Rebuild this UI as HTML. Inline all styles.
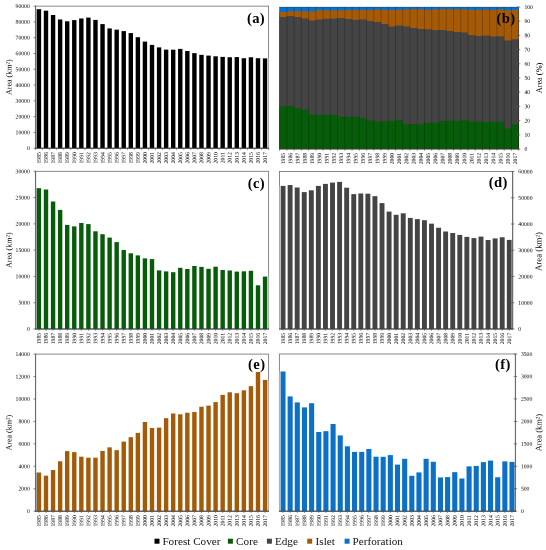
<!DOCTYPE html>
<html><head><meta charset="utf-8"><title>Forest fragmentation classes 1985-2017</title>
<style>
html,body{margin:0;padding:0;background:#fff;}
svg{display:block;font-family:"Liberation Serif","DejaVu Serif",serif;}
</style></head><body>
<svg width="546" height="550" viewBox="0 0 546 550">
<rect x="0" y="0" width="546" height="550" fill="#ffffff"/>
<rect x="35.4" y="6.15" width="233.2" height="142.05" fill="#fff" stroke="#7c7c7c" stroke-width="0.9"/>
<rect x="36.73" y="9.2" width="4.4" height="139" fill="#000000"/>
<rect x="43.8" y="10.7" width="4.4" height="137.5" fill="#000000"/>
<rect x="50.87" y="15" width="4.4" height="133.2" fill="#000000"/>
<rect x="57.93" y="19.45" width="4.4" height="128.75" fill="#000000"/>
<rect x="65" y="21.3" width="4.4" height="126.9" fill="#000000"/>
<rect x="72.07" y="20.1" width="4.4" height="128.1" fill="#000000"/>
<rect x="79.13" y="18.5" width="4.4" height="129.7" fill="#000000"/>
<rect x="86.2" y="17.6" width="4.4" height="130.6" fill="#000000"/>
<rect x="93.27" y="19.9" width="4.4" height="128.3" fill="#000000"/>
<rect x="100.33" y="24.1" width="4.4" height="124.1" fill="#000000"/>
<rect x="107.4" y="28.4" width="4.4" height="119.8" fill="#000000"/>
<rect x="114.47" y="29.65" width="4.4" height="118.55" fill="#000000"/>
<rect x="121.53" y="31.1" width="4.4" height="117.1" fill="#000000"/>
<rect x="128.6" y="33.1" width="4.4" height="115.1" fill="#000000"/>
<rect x="135.67" y="37.2" width="4.4" height="111" fill="#000000"/>
<rect x="142.73" y="41.6" width="4.4" height="106.6" fill="#000000"/>
<rect x="149.8" y="44.9" width="4.4" height="103.3" fill="#000000"/>
<rect x="156.87" y="47.4" width="4.4" height="100.8" fill="#000000"/>
<rect x="163.93" y="49.6" width="4.4" height="98.6" fill="#000000"/>
<rect x="171" y="49.7" width="4.4" height="98.5" fill="#000000"/>
<rect x="178.07" y="48.9" width="4.4" height="99.3" fill="#000000"/>
<rect x="185.13" y="51" width="4.4" height="97.2" fill="#000000"/>
<rect x="192.2" y="53.15" width="4.4" height="95.05" fill="#000000"/>
<rect x="199.27" y="54.85" width="4.4" height="93.35" fill="#000000"/>
<rect x="206.33" y="55.6" width="4.4" height="92.6" fill="#000000"/>
<rect x="213.4" y="56.3" width="4.4" height="91.9" fill="#000000"/>
<rect x="220.47" y="56.9" width="4.4" height="91.3" fill="#000000"/>
<rect x="227.53" y="57.25" width="4.4" height="90.95" fill="#000000"/>
<rect x="234.6" y="57.1" width="4.4" height="91.1" fill="#000000"/>
<rect x="241.67" y="58.2" width="4.4" height="90" fill="#000000"/>
<rect x="248.73" y="57.25" width="4.4" height="90.95" fill="#000000"/>
<rect x="255.8" y="58.2" width="4.4" height="90" fill="#000000"/>
<rect x="262.87" y="58.4" width="4.4" height="89.8" fill="#000000"/>
<rect x="35.4" y="9.2" width="1.43" height="139" fill="#a4a4a4"/>
<rect x="267.17" y="58.4" width="1.43" height="89.8" fill="#c8c8c8"/>
<line x1="35.65" y1="6.15" x2="35.65" y2="148.2" stroke="#606060" stroke-width="0.85"/>
<line x1="35" y1="148.2" x2="269" y2="148.2" stroke="#3a3a3a" stroke-width="0.9"/>
<line x1="33.5" y1="148.2" x2="36" y2="148.2" stroke="#555555" stroke-width="0.7"/>
<text x="29.8" y="150.08" font-size="5.7" text-anchor="end" transform="rotate(0.1 29.8 150.08)" fill="#000000">0</text>
<line x1="33.5" y1="132.42" x2="36" y2="132.42" stroke="#555555" stroke-width="0.7"/>
<text x="29.8" y="134.3" font-size="5.7" text-anchor="end" transform="rotate(0.1 29.8 134.3)" fill="#000000">10000</text>
<line x1="33.5" y1="116.63" x2="36" y2="116.63" stroke="#555555" stroke-width="0.7"/>
<text x="29.8" y="118.51" font-size="5.7" text-anchor="end" transform="rotate(0.1 29.8 118.51)" fill="#000000">20000</text>
<line x1="33.5" y1="100.85" x2="36" y2="100.85" stroke="#555555" stroke-width="0.7"/>
<text x="29.8" y="102.73" font-size="5.7" text-anchor="end" transform="rotate(0.1 29.8 102.73)" fill="#000000">30000</text>
<line x1="33.5" y1="85.07" x2="36" y2="85.07" stroke="#555555" stroke-width="0.7"/>
<text x="29.8" y="86.95" font-size="5.7" text-anchor="end" transform="rotate(0.1 29.8 86.95)" fill="#000000">40000</text>
<line x1="33.5" y1="69.28" x2="36" y2="69.28" stroke="#555555" stroke-width="0.7"/>
<text x="29.8" y="71.16" font-size="5.7" text-anchor="end" transform="rotate(0.1 29.8 71.16)" fill="#000000">50000</text>
<line x1="33.5" y1="53.5" x2="36" y2="53.5" stroke="#555555" stroke-width="0.7"/>
<text x="29.8" y="55.38" font-size="5.7" text-anchor="end" transform="rotate(0.1 29.8 55.38)" fill="#000000">60000</text>
<line x1="33.5" y1="37.72" x2="36" y2="37.72" stroke="#555555" stroke-width="0.7"/>
<text x="29.8" y="39.6" font-size="5.7" text-anchor="end" transform="rotate(0.1 29.8 39.6)" fill="#000000">70000</text>
<line x1="33.5" y1="21.93" x2="36" y2="21.93" stroke="#555555" stroke-width="0.7"/>
<text x="29.8" y="23.81" font-size="5.7" text-anchor="end" transform="rotate(0.1 29.8 23.81)" fill="#000000">80000</text>
<line x1="33.5" y1="6.15" x2="36" y2="6.15" stroke="#555555" stroke-width="0.7"/>
<text x="29.8" y="8.03" font-size="5.7" text-anchor="end" transform="rotate(0.1 29.8 8.03)" fill="#000000">90000</text>
<line x1="35.4" y1="148.2" x2="35.4" y2="149.9" stroke="#555555" stroke-width="0.7"/>
<line x1="42.47" y1="148.2" x2="42.47" y2="149.9" stroke="#555555" stroke-width="0.7"/>
<line x1="49.53" y1="148.2" x2="49.53" y2="149.9" stroke="#555555" stroke-width="0.7"/>
<line x1="56.6" y1="148.2" x2="56.6" y2="149.9" stroke="#555555" stroke-width="0.7"/>
<line x1="63.67" y1="148.2" x2="63.67" y2="149.9" stroke="#555555" stroke-width="0.7"/>
<line x1="70.73" y1="148.2" x2="70.73" y2="149.9" stroke="#555555" stroke-width="0.7"/>
<line x1="77.8" y1="148.2" x2="77.8" y2="149.9" stroke="#555555" stroke-width="0.7"/>
<line x1="84.87" y1="148.2" x2="84.87" y2="149.9" stroke="#555555" stroke-width="0.7"/>
<line x1="91.93" y1="148.2" x2="91.93" y2="149.9" stroke="#555555" stroke-width="0.7"/>
<line x1="99" y1="148.2" x2="99" y2="149.9" stroke="#555555" stroke-width="0.7"/>
<line x1="106.07" y1="148.2" x2="106.07" y2="149.9" stroke="#555555" stroke-width="0.7"/>
<line x1="113.13" y1="148.2" x2="113.13" y2="149.9" stroke="#555555" stroke-width="0.7"/>
<line x1="120.2" y1="148.2" x2="120.2" y2="149.9" stroke="#555555" stroke-width="0.7"/>
<line x1="127.27" y1="148.2" x2="127.27" y2="149.9" stroke="#555555" stroke-width="0.7"/>
<line x1="134.33" y1="148.2" x2="134.33" y2="149.9" stroke="#555555" stroke-width="0.7"/>
<line x1="141.4" y1="148.2" x2="141.4" y2="149.9" stroke="#555555" stroke-width="0.7"/>
<line x1="148.47" y1="148.2" x2="148.47" y2="149.9" stroke="#555555" stroke-width="0.7"/>
<line x1="155.53" y1="148.2" x2="155.53" y2="149.9" stroke="#555555" stroke-width="0.7"/>
<line x1="162.6" y1="148.2" x2="162.6" y2="149.9" stroke="#555555" stroke-width="0.7"/>
<line x1="169.67" y1="148.2" x2="169.67" y2="149.9" stroke="#555555" stroke-width="0.7"/>
<line x1="176.73" y1="148.2" x2="176.73" y2="149.9" stroke="#555555" stroke-width="0.7"/>
<line x1="183.8" y1="148.2" x2="183.8" y2="149.9" stroke="#555555" stroke-width="0.7"/>
<line x1="190.87" y1="148.2" x2="190.87" y2="149.9" stroke="#555555" stroke-width="0.7"/>
<line x1="197.93" y1="148.2" x2="197.93" y2="149.9" stroke="#555555" stroke-width="0.7"/>
<line x1="205" y1="148.2" x2="205" y2="149.9" stroke="#555555" stroke-width="0.7"/>
<line x1="212.07" y1="148.2" x2="212.07" y2="149.9" stroke="#555555" stroke-width="0.7"/>
<line x1="219.13" y1="148.2" x2="219.13" y2="149.9" stroke="#555555" stroke-width="0.7"/>
<line x1="226.2" y1="148.2" x2="226.2" y2="149.9" stroke="#555555" stroke-width="0.7"/>
<line x1="233.27" y1="148.2" x2="233.27" y2="149.9" stroke="#555555" stroke-width="0.7"/>
<line x1="240.33" y1="148.2" x2="240.33" y2="149.9" stroke="#555555" stroke-width="0.7"/>
<line x1="247.4" y1="148.2" x2="247.4" y2="149.9" stroke="#555555" stroke-width="0.7"/>
<line x1="254.47" y1="148.2" x2="254.47" y2="149.9" stroke="#555555" stroke-width="0.7"/>
<line x1="261.53" y1="148.2" x2="261.53" y2="149.9" stroke="#555555" stroke-width="0.7"/>
<line x1="268.6" y1="148.2" x2="268.6" y2="149.9" stroke="#555555" stroke-width="0.7"/>
<text x="40.81" y="152.1" font-size="5.7" text-anchor="end" transform="rotate(-89.9 40.81 152.1)" fill="#000000">1985</text>
<text x="47.88" y="152.1" font-size="5.7" text-anchor="end" transform="rotate(-89.9 47.88 152.1)" fill="#000000">1986</text>
<text x="54.95" y="152.1" font-size="5.7" text-anchor="end" transform="rotate(-89.9 54.95 152.1)" fill="#000000">1987</text>
<text x="62.01" y="152.1" font-size="5.7" text-anchor="end" transform="rotate(-89.9 62.01 152.1)" fill="#000000">1988</text>
<text x="69.08" y="152.1" font-size="5.7" text-anchor="end" transform="rotate(-89.9 69.08 152.1)" fill="#000000">1989</text>
<text x="76.15" y="152.1" font-size="5.7" text-anchor="end" transform="rotate(-89.9 76.15 152.1)" fill="#000000">1990</text>
<text x="83.21" y="152.1" font-size="5.7" text-anchor="end" transform="rotate(-89.9 83.21 152.1)" fill="#000000">1991</text>
<text x="90.28" y="152.1" font-size="5.7" text-anchor="end" transform="rotate(-89.9 90.28 152.1)" fill="#000000">1992</text>
<text x="97.35" y="152.1" font-size="5.7" text-anchor="end" transform="rotate(-89.9 97.35 152.1)" fill="#000000">1993</text>
<text x="104.41" y="152.1" font-size="5.7" text-anchor="end" transform="rotate(-89.9 104.41 152.1)" fill="#000000">1994</text>
<text x="111.48" y="152.1" font-size="5.7" text-anchor="end" transform="rotate(-89.9 111.48 152.1)" fill="#000000">1995</text>
<text x="118.55" y="152.1" font-size="5.7" text-anchor="end" transform="rotate(-89.9 118.55 152.1)" fill="#000000">1996</text>
<text x="125.61" y="152.1" font-size="5.7" text-anchor="end" transform="rotate(-89.9 125.61 152.1)" fill="#000000">1997</text>
<text x="132.68" y="152.1" font-size="5.7" text-anchor="end" transform="rotate(-89.9 132.68 152.1)" fill="#000000">1998</text>
<text x="139.75" y="152.1" font-size="5.7" text-anchor="end" transform="rotate(-89.9 139.75 152.1)" fill="#000000">1999</text>
<text x="146.81" y="152.1" font-size="5.7" text-anchor="end" transform="rotate(-89.9 146.81 152.1)" fill="#000000">2000</text>
<text x="153.88" y="152.1" font-size="5.7" text-anchor="end" transform="rotate(-89.9 153.88 152.1)" fill="#000000">2001</text>
<text x="160.95" y="152.1" font-size="5.7" text-anchor="end" transform="rotate(-89.9 160.95 152.1)" fill="#000000">2002</text>
<text x="168.01" y="152.1" font-size="5.7" text-anchor="end" transform="rotate(-89.9 168.01 152.1)" fill="#000000">2003</text>
<text x="175.08" y="152.1" font-size="5.7" text-anchor="end" transform="rotate(-89.9 175.08 152.1)" fill="#000000">2004</text>
<text x="182.15" y="152.1" font-size="5.7" text-anchor="end" transform="rotate(-89.9 182.15 152.1)" fill="#000000">2005</text>
<text x="189.21" y="152.1" font-size="5.7" text-anchor="end" transform="rotate(-89.9 189.21 152.1)" fill="#000000">2006</text>
<text x="196.28" y="152.1" font-size="5.7" text-anchor="end" transform="rotate(-89.9 196.28 152.1)" fill="#000000">2007</text>
<text x="203.35" y="152.1" font-size="5.7" text-anchor="end" transform="rotate(-89.9 203.35 152.1)" fill="#000000">2008</text>
<text x="210.41" y="152.1" font-size="5.7" text-anchor="end" transform="rotate(-89.9 210.41 152.1)" fill="#000000">2009</text>
<text x="217.48" y="152.1" font-size="5.7" text-anchor="end" transform="rotate(-89.9 217.48 152.1)" fill="#000000">2010</text>
<text x="224.55" y="152.1" font-size="5.7" text-anchor="end" transform="rotate(-89.9 224.55 152.1)" fill="#000000">2011</text>
<text x="231.61" y="152.1" font-size="5.7" text-anchor="end" transform="rotate(-89.9 231.61 152.1)" fill="#000000">2012</text>
<text x="238.68" y="152.1" font-size="5.7" text-anchor="end" transform="rotate(-89.9 238.68 152.1)" fill="#000000">2013</text>
<text x="245.75" y="152.1" font-size="5.7" text-anchor="end" transform="rotate(-89.9 245.75 152.1)" fill="#000000">2014</text>
<text x="252.81" y="152.1" font-size="5.7" text-anchor="end" transform="rotate(-89.9 252.81 152.1)" fill="#000000">2015</text>
<text x="259.88" y="152.1" font-size="5.7" text-anchor="end" transform="rotate(-89.9 259.88 152.1)" fill="#000000">2016</text>
<text x="266.95" y="152.1" font-size="5.7" text-anchor="end" transform="rotate(-89.9 266.95 152.1)" fill="#000000">2017</text>
<text x="265.1" y="22.9" font-size="14.6" text-anchor="end" font-weight="bold" letter-spacing="0.4" fill="#000">(a)</text>
<text x="11.5" y="77.17" font-size="8.0" text-anchor="middle" transform="rotate(-89.9 11.5 77.17)" fill="#000000">Area (km<tspan baseline-shift="super" font-size="5">2</tspan>)</text>
<rect x="279.6" y="7" width="239.1" height="142" fill="#0C70C6"/>
<path d="M279.6 149V12.03H286.85V11.21H294.09V11.21H301.34V11.21H308.58V11.54H315.83V10.22H323.07V10.22H330.32V10.55H337.56V10.22H344.81V9.89H352.05V9.89H359.3V9.89H366.55V9.89H373.79V9.56H381.04V9.89H388.28V9.89H395.53V9.89H402.77V9.56H410.02V9.23H417.26V9.23H424.51V9.89H431.75V9.56H439V9.23H446.25V9.23H453.49V9.23H460.74V9.23H467.98V9.89H475.23V9.89H482.47V9.56H489.72V9.89H496.96V9.23H504.21V10.22H511.45V9.89H518.7V149Z" fill="#A45A06"/>
<path d="M279.6 149V17.1H286.85V16H294.09V17H301.34V18.5H308.58V20.6H315.83V19.45H323.07V18.8H330.32V18.6H337.56V18.1H344.81V18.95H352.05V19.8H359.3V19.6H366.55V21.1H373.79V22.1H381.04V24.1H388.28V26.4H395.53V25.4H402.77V26.4H410.02V28H417.26V29H424.51V29.3H431.75V30H439V30H446.25V31.1H453.49V32H460.74V32.6H467.98V34.9H475.23V35.9H482.47V35.6H489.72V36.6H496.96V36.3H504.21V40.5H511.45V39.2H518.7V149Z" fill="#444444"/>
<path d="M279.6 149V105.9H286.85V105.9H294.09V108.2H301.34V109.8H308.58V114.45H315.83V115.1H323.07V114.45H330.32V114.8H337.56V116.8H344.81V116.8H352.05V116.8H359.3V118.1H366.55V120.4H373.79V121.4H381.04V121H388.28V120.7H395.53V120.05H402.77V124.3H410.02V124H417.26V124.3H424.51V122.7H431.75V122.85H439V120.95H446.25V120.7H453.49V121H460.74V120.2H467.98V121.4H475.23V121.4H482.47V122.2H489.72V121.7H496.96V121.7H504.21V128.5H511.45V124.3H518.7V149Z" fill="#075C0A"/>
<line x1="279.6" y1="7" x2="279.6" y2="149" stroke="#000" stroke-width="0.6" stroke-opacity="0.38"/>
<line x1="286.85" y1="7" x2="286.85" y2="149" stroke="#000" stroke-width="0.6" stroke-opacity="0.38"/>
<line x1="294.09" y1="7" x2="294.09" y2="149" stroke="#000" stroke-width="0.6" stroke-opacity="0.38"/>
<line x1="301.34" y1="7" x2="301.34" y2="149" stroke="#000" stroke-width="0.6" stroke-opacity="0.38"/>
<line x1="308.58" y1="7" x2="308.58" y2="149" stroke="#000" stroke-width="0.6" stroke-opacity="0.38"/>
<line x1="315.83" y1="7" x2="315.83" y2="149" stroke="#000" stroke-width="0.6" stroke-opacity="0.38"/>
<line x1="323.07" y1="7" x2="323.07" y2="149" stroke="#000" stroke-width="0.6" stroke-opacity="0.38"/>
<line x1="330.32" y1="7" x2="330.32" y2="149" stroke="#000" stroke-width="0.6" stroke-opacity="0.38"/>
<line x1="337.56" y1="7" x2="337.56" y2="149" stroke="#000" stroke-width="0.6" stroke-opacity="0.38"/>
<line x1="344.81" y1="7" x2="344.81" y2="149" stroke="#000" stroke-width="0.6" stroke-opacity="0.38"/>
<line x1="352.05" y1="7" x2="352.05" y2="149" stroke="#000" stroke-width="0.6" stroke-opacity="0.38"/>
<line x1="359.3" y1="7" x2="359.3" y2="149" stroke="#000" stroke-width="0.6" stroke-opacity="0.38"/>
<line x1="366.55" y1="7" x2="366.55" y2="149" stroke="#000" stroke-width="0.6" stroke-opacity="0.38"/>
<line x1="373.79" y1="7" x2="373.79" y2="149" stroke="#000" stroke-width="0.6" stroke-opacity="0.38"/>
<line x1="381.04" y1="7" x2="381.04" y2="149" stroke="#000" stroke-width="0.6" stroke-opacity="0.38"/>
<line x1="388.28" y1="7" x2="388.28" y2="149" stroke="#000" stroke-width="0.6" stroke-opacity="0.38"/>
<line x1="395.53" y1="7" x2="395.53" y2="149" stroke="#000" stroke-width="0.6" stroke-opacity="0.38"/>
<line x1="402.77" y1="7" x2="402.77" y2="149" stroke="#000" stroke-width="0.6" stroke-opacity="0.38"/>
<line x1="410.02" y1="7" x2="410.02" y2="149" stroke="#000" stroke-width="0.6" stroke-opacity="0.38"/>
<line x1="417.26" y1="7" x2="417.26" y2="149" stroke="#000" stroke-width="0.6" stroke-opacity="0.38"/>
<line x1="424.51" y1="7" x2="424.51" y2="149" stroke="#000" stroke-width="0.6" stroke-opacity="0.38"/>
<line x1="431.75" y1="7" x2="431.75" y2="149" stroke="#000" stroke-width="0.6" stroke-opacity="0.38"/>
<line x1="439" y1="7" x2="439" y2="149" stroke="#000" stroke-width="0.6" stroke-opacity="0.38"/>
<line x1="446.25" y1="7" x2="446.25" y2="149" stroke="#000" stroke-width="0.6" stroke-opacity="0.38"/>
<line x1="453.49" y1="7" x2="453.49" y2="149" stroke="#000" stroke-width="0.6" stroke-opacity="0.38"/>
<line x1="460.74" y1="7" x2="460.74" y2="149" stroke="#000" stroke-width="0.6" stroke-opacity="0.38"/>
<line x1="467.98" y1="7" x2="467.98" y2="149" stroke="#000" stroke-width="0.6" stroke-opacity="0.38"/>
<line x1="475.23" y1="7" x2="475.23" y2="149" stroke="#000" stroke-width="0.6" stroke-opacity="0.38"/>
<line x1="482.47" y1="7" x2="482.47" y2="149" stroke="#000" stroke-width="0.6" stroke-opacity="0.38"/>
<line x1="489.72" y1="7" x2="489.72" y2="149" stroke="#000" stroke-width="0.6" stroke-opacity="0.38"/>
<line x1="496.96" y1="7" x2="496.96" y2="149" stroke="#000" stroke-width="0.6" stroke-opacity="0.38"/>
<line x1="504.21" y1="7" x2="504.21" y2="149" stroke="#000" stroke-width="0.6" stroke-opacity="0.38"/>
<line x1="511.45" y1="7" x2="511.45" y2="149" stroke="#000" stroke-width="0.6" stroke-opacity="0.38"/>
<line x1="518.7" y1="7" x2="518.7" y2="149" stroke="#000" stroke-width="0.6" stroke-opacity="0.38"/>
<rect x="279.6" y="7" width="239.1" height="142" fill="none" stroke="#000" stroke-opacity="0.4" stroke-width="0.5"/>
<line x1="279.2" y1="149" x2="519.1" y2="149" stroke="#3a3a3a" stroke-width="0.9"/>
<line x1="516.8" y1="149" x2="520.3" y2="149" stroke="#555555" stroke-width="0.7"/>
<text x="524.4" y="150.88" font-size="5.7" transform="rotate(0.1 524.4 150.88)" fill="#000000">0</text>
<line x1="516.8" y1="134.8" x2="520.3" y2="134.8" stroke="#555555" stroke-width="0.7"/>
<text x="524.4" y="136.68" font-size="5.7" transform="rotate(0.1 524.4 136.68)" fill="#000000">10</text>
<line x1="516.8" y1="120.6" x2="520.3" y2="120.6" stroke="#555555" stroke-width="0.7"/>
<text x="524.4" y="122.48" font-size="5.7" transform="rotate(0.1 524.4 122.48)" fill="#000000">20</text>
<line x1="516.8" y1="106.4" x2="520.3" y2="106.4" stroke="#555555" stroke-width="0.7"/>
<text x="524.4" y="108.28" font-size="5.7" transform="rotate(0.1 524.4 108.28)" fill="#000000">30</text>
<line x1="516.8" y1="92.2" x2="520.3" y2="92.2" stroke="#555555" stroke-width="0.7"/>
<text x="524.4" y="94.08" font-size="5.7" transform="rotate(0.1 524.4 94.08)" fill="#000000">40</text>
<line x1="516.8" y1="78" x2="520.3" y2="78" stroke="#555555" stroke-width="0.7"/>
<text x="524.4" y="79.88" font-size="5.7" transform="rotate(0.1 524.4 79.88)" fill="#000000">50</text>
<line x1="516.8" y1="63.8" x2="520.3" y2="63.8" stroke="#555555" stroke-width="0.7"/>
<text x="524.4" y="65.68" font-size="5.7" transform="rotate(0.1 524.4 65.68)" fill="#000000">60</text>
<line x1="516.8" y1="49.6" x2="520.3" y2="49.6" stroke="#555555" stroke-width="0.7"/>
<text x="524.4" y="51.48" font-size="5.7" transform="rotate(0.1 524.4 51.48)" fill="#000000">70</text>
<line x1="516.8" y1="35.4" x2="520.3" y2="35.4" stroke="#555555" stroke-width="0.7"/>
<text x="524.4" y="37.28" font-size="5.7" transform="rotate(0.1 524.4 37.28)" fill="#000000">80</text>
<line x1="516.8" y1="21.2" x2="520.3" y2="21.2" stroke="#555555" stroke-width="0.7"/>
<text x="524.4" y="23.08" font-size="5.7" transform="rotate(0.1 524.4 23.08)" fill="#000000">90</text>
<line x1="516.8" y1="7" x2="520.3" y2="7" stroke="#555555" stroke-width="0.7"/>
<text x="524.4" y="8.88" font-size="5.7" transform="rotate(0.1 524.4 8.88)" fill="#000000">100</text>
<line x1="279.6" y1="149" x2="279.6" y2="150.7" stroke="#555555" stroke-width="0.7"/>
<line x1="286.85" y1="149" x2="286.85" y2="150.7" stroke="#555555" stroke-width="0.7"/>
<line x1="294.09" y1="149" x2="294.09" y2="150.7" stroke="#555555" stroke-width="0.7"/>
<line x1="301.34" y1="149" x2="301.34" y2="150.7" stroke="#555555" stroke-width="0.7"/>
<line x1="308.58" y1="149" x2="308.58" y2="150.7" stroke="#555555" stroke-width="0.7"/>
<line x1="315.83" y1="149" x2="315.83" y2="150.7" stroke="#555555" stroke-width="0.7"/>
<line x1="323.07" y1="149" x2="323.07" y2="150.7" stroke="#555555" stroke-width="0.7"/>
<line x1="330.32" y1="149" x2="330.32" y2="150.7" stroke="#555555" stroke-width="0.7"/>
<line x1="337.56" y1="149" x2="337.56" y2="150.7" stroke="#555555" stroke-width="0.7"/>
<line x1="344.81" y1="149" x2="344.81" y2="150.7" stroke="#555555" stroke-width="0.7"/>
<line x1="352.05" y1="149" x2="352.05" y2="150.7" stroke="#555555" stroke-width="0.7"/>
<line x1="359.3" y1="149" x2="359.3" y2="150.7" stroke="#555555" stroke-width="0.7"/>
<line x1="366.55" y1="149" x2="366.55" y2="150.7" stroke="#555555" stroke-width="0.7"/>
<line x1="373.79" y1="149" x2="373.79" y2="150.7" stroke="#555555" stroke-width="0.7"/>
<line x1="381.04" y1="149" x2="381.04" y2="150.7" stroke="#555555" stroke-width="0.7"/>
<line x1="388.28" y1="149" x2="388.28" y2="150.7" stroke="#555555" stroke-width="0.7"/>
<line x1="395.53" y1="149" x2="395.53" y2="150.7" stroke="#555555" stroke-width="0.7"/>
<line x1="402.77" y1="149" x2="402.77" y2="150.7" stroke="#555555" stroke-width="0.7"/>
<line x1="410.02" y1="149" x2="410.02" y2="150.7" stroke="#555555" stroke-width="0.7"/>
<line x1="417.26" y1="149" x2="417.26" y2="150.7" stroke="#555555" stroke-width="0.7"/>
<line x1="424.51" y1="149" x2="424.51" y2="150.7" stroke="#555555" stroke-width="0.7"/>
<line x1="431.75" y1="149" x2="431.75" y2="150.7" stroke="#555555" stroke-width="0.7"/>
<line x1="439" y1="149" x2="439" y2="150.7" stroke="#555555" stroke-width="0.7"/>
<line x1="446.25" y1="149" x2="446.25" y2="150.7" stroke="#555555" stroke-width="0.7"/>
<line x1="453.49" y1="149" x2="453.49" y2="150.7" stroke="#555555" stroke-width="0.7"/>
<line x1="460.74" y1="149" x2="460.74" y2="150.7" stroke="#555555" stroke-width="0.7"/>
<line x1="467.98" y1="149" x2="467.98" y2="150.7" stroke="#555555" stroke-width="0.7"/>
<line x1="475.23" y1="149" x2="475.23" y2="150.7" stroke="#555555" stroke-width="0.7"/>
<line x1="482.47" y1="149" x2="482.47" y2="150.7" stroke="#555555" stroke-width="0.7"/>
<line x1="489.72" y1="149" x2="489.72" y2="150.7" stroke="#555555" stroke-width="0.7"/>
<line x1="496.96" y1="149" x2="496.96" y2="150.7" stroke="#555555" stroke-width="0.7"/>
<line x1="504.21" y1="149" x2="504.21" y2="150.7" stroke="#555555" stroke-width="0.7"/>
<line x1="511.45" y1="149" x2="511.45" y2="150.7" stroke="#555555" stroke-width="0.7"/>
<line x1="518.7" y1="149" x2="518.7" y2="150.7" stroke="#555555" stroke-width="0.7"/>
<text x="285.1" y="152.9" font-size="5.7" text-anchor="end" transform="rotate(-89.9 285.1 152.9)" fill="#000000">1985</text>
<text x="292.35" y="152.9" font-size="5.7" text-anchor="end" transform="rotate(-89.9 292.35 152.9)" fill="#000000">1986</text>
<text x="299.59" y="152.9" font-size="5.7" text-anchor="end" transform="rotate(-89.9 299.59 152.9)" fill="#000000">1987</text>
<text x="306.84" y="152.9" font-size="5.7" text-anchor="end" transform="rotate(-89.9 306.84 152.9)" fill="#000000">1988</text>
<text x="314.09" y="152.9" font-size="5.7" text-anchor="end" transform="rotate(-89.9 314.09 152.9)" fill="#000000">1989</text>
<text x="321.33" y="152.9" font-size="5.7" text-anchor="end" transform="rotate(-89.9 321.33 152.9)" fill="#000000">1990</text>
<text x="328.58" y="152.9" font-size="5.7" text-anchor="end" transform="rotate(-89.9 328.58 152.9)" fill="#000000">1991</text>
<text x="335.82" y="152.9" font-size="5.7" text-anchor="end" transform="rotate(-89.9 335.82 152.9)" fill="#000000">1992</text>
<text x="343.07" y="152.9" font-size="5.7" text-anchor="end" transform="rotate(-89.9 343.07 152.9)" fill="#000000">1993</text>
<text x="350.31" y="152.9" font-size="5.7" text-anchor="end" transform="rotate(-89.9 350.31 152.9)" fill="#000000">1994</text>
<text x="357.56" y="152.9" font-size="5.7" text-anchor="end" transform="rotate(-89.9 357.56 152.9)" fill="#000000">1995</text>
<text x="364.8" y="152.9" font-size="5.7" text-anchor="end" transform="rotate(-89.9 364.8 152.9)" fill="#000000">1996</text>
<text x="372.05" y="152.9" font-size="5.7" text-anchor="end" transform="rotate(-89.9 372.05 152.9)" fill="#000000">1997</text>
<text x="379.29" y="152.9" font-size="5.7" text-anchor="end" transform="rotate(-89.9 379.29 152.9)" fill="#000000">1998</text>
<text x="386.54" y="152.9" font-size="5.7" text-anchor="end" transform="rotate(-89.9 386.54 152.9)" fill="#000000">1999</text>
<text x="393.79" y="152.9" font-size="5.7" text-anchor="end" transform="rotate(-89.9 393.79 152.9)" fill="#000000">2000</text>
<text x="401.03" y="152.9" font-size="5.7" text-anchor="end" transform="rotate(-89.9 401.03 152.9)" fill="#000000">2001</text>
<text x="408.28" y="152.9" font-size="5.7" text-anchor="end" transform="rotate(-89.9 408.28 152.9)" fill="#000000">2002</text>
<text x="415.52" y="152.9" font-size="5.7" text-anchor="end" transform="rotate(-89.9 415.52 152.9)" fill="#000000">2003</text>
<text x="422.77" y="152.9" font-size="5.7" text-anchor="end" transform="rotate(-89.9 422.77 152.9)" fill="#000000">2004</text>
<text x="430.01" y="152.9" font-size="5.7" text-anchor="end" transform="rotate(-89.9 430.01 152.9)" fill="#000000">2005</text>
<text x="437.26" y="152.9" font-size="5.7" text-anchor="end" transform="rotate(-89.9 437.26 152.9)" fill="#000000">2006</text>
<text x="444.5" y="152.9" font-size="5.7" text-anchor="end" transform="rotate(-89.9 444.5 152.9)" fill="#000000">2007</text>
<text x="451.75" y="152.9" font-size="5.7" text-anchor="end" transform="rotate(-89.9 451.75 152.9)" fill="#000000">2008</text>
<text x="458.99" y="152.9" font-size="5.7" text-anchor="end" transform="rotate(-89.9 458.99 152.9)" fill="#000000">2009</text>
<text x="466.24" y="152.9" font-size="5.7" text-anchor="end" transform="rotate(-89.9 466.24 152.9)" fill="#000000">2010</text>
<text x="473.49" y="152.9" font-size="5.7" text-anchor="end" transform="rotate(-89.9 473.49 152.9)" fill="#000000">2011</text>
<text x="480.73" y="152.9" font-size="5.7" text-anchor="end" transform="rotate(-89.9 480.73 152.9)" fill="#000000">2012</text>
<text x="487.98" y="152.9" font-size="5.7" text-anchor="end" transform="rotate(-89.9 487.98 152.9)" fill="#000000">2013</text>
<text x="495.22" y="152.9" font-size="5.7" text-anchor="end" transform="rotate(-89.9 495.22 152.9)" fill="#000000">2014</text>
<text x="502.47" y="152.9" font-size="5.7" text-anchor="end" transform="rotate(-89.9 502.47 152.9)" fill="#000000">2015</text>
<text x="509.71" y="152.9" font-size="5.7" text-anchor="end" transform="rotate(-89.9 509.71 152.9)" fill="#000000">2016</text>
<text x="516.96" y="152.9" font-size="5.7" text-anchor="end" transform="rotate(-89.9 516.96 152.9)" fill="#000000">2017</text>
<text x="515.5" y="22.6" font-size="14.6" text-anchor="end" font-weight="bold" letter-spacing="0.4" fill="#000">(b)</text>
<text x="541.8" y="78" font-size="8.3" text-anchor="middle" transform="rotate(-89.9 541.8 78)" fill="#000000">Area (%)</text>
<rect x="35.4" y="171.3" width="233.2" height="157.7" fill="#fff" stroke="#7c7c7c" stroke-width="0.9"/>
<rect x="36.73" y="188.2" width="4.4" height="140.8" fill="#075C0A"/>
<rect x="43.8" y="189.5" width="4.4" height="139.5" fill="#075C0A"/>
<rect x="50.87" y="201.5" width="4.4" height="127.5" fill="#075C0A"/>
<rect x="57.93" y="209.9" width="4.4" height="119.1" fill="#075C0A"/>
<rect x="65" y="224.9" width="4.4" height="104.1" fill="#075C0A"/>
<rect x="72.07" y="226.4" width="4.4" height="102.6" fill="#075C0A"/>
<rect x="79.13" y="223" width="4.4" height="106" fill="#075C0A"/>
<rect x="86.2" y="224.1" width="4.4" height="104.9" fill="#075C0A"/>
<rect x="93.27" y="231.3" width="4.4" height="97.7" fill="#075C0A"/>
<rect x="100.33" y="234.2" width="4.4" height="94.8" fill="#075C0A"/>
<rect x="107.4" y="237.6" width="4.4" height="91.4" fill="#075C0A"/>
<rect x="114.47" y="242.1" width="4.4" height="86.9" fill="#075C0A"/>
<rect x="121.53" y="250" width="4.4" height="79" fill="#075C0A"/>
<rect x="128.6" y="253.3" width="4.4" height="75.7" fill="#075C0A"/>
<rect x="135.67" y="255.4" width="4.4" height="73.6" fill="#075C0A"/>
<rect x="142.73" y="258.4" width="4.4" height="70.6" fill="#075C0A"/>
<rect x="149.8" y="259.1" width="4.4" height="69.9" fill="#075C0A"/>
<rect x="156.87" y="270.4" width="4.4" height="58.6" fill="#075C0A"/>
<rect x="163.93" y="271.4" width="4.4" height="57.6" fill="#075C0A"/>
<rect x="171" y="272.2" width="4.4" height="56.8" fill="#075C0A"/>
<rect x="178.07" y="267.8" width="4.4" height="61.2" fill="#075C0A"/>
<rect x="185.13" y="269" width="4.4" height="60" fill="#075C0A"/>
<rect x="192.2" y="266" width="4.4" height="63" fill="#075C0A"/>
<rect x="199.27" y="266.9" width="4.4" height="62.1" fill="#075C0A"/>
<rect x="206.33" y="268.8" width="4.4" height="60.2" fill="#075C0A"/>
<rect x="213.4" y="266.7" width="4.4" height="62.3" fill="#075C0A"/>
<rect x="220.47" y="270" width="4.4" height="59" fill="#075C0A"/>
<rect x="227.53" y="270.5" width="4.4" height="58.5" fill="#075C0A"/>
<rect x="234.6" y="271.6" width="4.4" height="57.4" fill="#075C0A"/>
<rect x="241.67" y="271.3" width="4.4" height="57.7" fill="#075C0A"/>
<rect x="248.73" y="270.8" width="4.4" height="58.2" fill="#075C0A"/>
<rect x="255.8" y="285.3" width="4.4" height="43.7" fill="#075C0A"/>
<rect x="262.87" y="276.6" width="4.4" height="52.4" fill="#075C0A"/>
<rect x="35.4" y="188.2" width="1.43" height="140.8" fill="#a4a4a4"/>
<rect x="267.17" y="276.6" width="1.43" height="52.4" fill="#c8c8c8"/>
<line x1="35.65" y1="171.3" x2="35.65" y2="329" stroke="#606060" stroke-width="0.85"/>
<line x1="35" y1="329" x2="269" y2="329" stroke="#3a3a3a" stroke-width="0.9"/>
<line x1="33.5" y1="329" x2="36" y2="329" stroke="#555555" stroke-width="0.7"/>
<text x="29.8" y="330.88" font-size="5.7" text-anchor="end" transform="rotate(0.1 29.8 330.88)" fill="#000000">0</text>
<line x1="33.5" y1="302.72" x2="36" y2="302.72" stroke="#555555" stroke-width="0.7"/>
<text x="29.8" y="304.6" font-size="5.7" text-anchor="end" transform="rotate(0.1 29.8 304.6)" fill="#000000">5000</text>
<line x1="33.5" y1="276.43" x2="36" y2="276.43" stroke="#555555" stroke-width="0.7"/>
<text x="29.8" y="278.31" font-size="5.7" text-anchor="end" transform="rotate(0.1 29.8 278.31)" fill="#000000">10000</text>
<line x1="33.5" y1="250.15" x2="36" y2="250.15" stroke="#555555" stroke-width="0.7"/>
<text x="29.8" y="252.03" font-size="5.7" text-anchor="end" transform="rotate(0.1 29.8 252.03)" fill="#000000">15000</text>
<line x1="33.5" y1="223.87" x2="36" y2="223.87" stroke="#555555" stroke-width="0.7"/>
<text x="29.8" y="225.75" font-size="5.7" text-anchor="end" transform="rotate(0.1 29.8 225.75)" fill="#000000">20000</text>
<line x1="33.5" y1="197.58" x2="36" y2="197.58" stroke="#555555" stroke-width="0.7"/>
<text x="29.8" y="199.46" font-size="5.7" text-anchor="end" transform="rotate(0.1 29.8 199.46)" fill="#000000">25000</text>
<line x1="33.5" y1="171.3" x2="36" y2="171.3" stroke="#555555" stroke-width="0.7"/>
<text x="29.8" y="173.18" font-size="5.7" text-anchor="end" transform="rotate(0.1 29.8 173.18)" fill="#000000">30000</text>
<line x1="38.93" y1="329" x2="38.93" y2="330.7" stroke="#555555" stroke-width="0.7"/>
<line x1="46" y1="329" x2="46" y2="330.7" stroke="#555555" stroke-width="0.7"/>
<line x1="53.07" y1="329" x2="53.07" y2="330.7" stroke="#555555" stroke-width="0.7"/>
<line x1="60.13" y1="329" x2="60.13" y2="330.7" stroke="#555555" stroke-width="0.7"/>
<line x1="67.2" y1="329" x2="67.2" y2="330.7" stroke="#555555" stroke-width="0.7"/>
<line x1="74.27" y1="329" x2="74.27" y2="330.7" stroke="#555555" stroke-width="0.7"/>
<line x1="81.33" y1="329" x2="81.33" y2="330.7" stroke="#555555" stroke-width="0.7"/>
<line x1="88.4" y1="329" x2="88.4" y2="330.7" stroke="#555555" stroke-width="0.7"/>
<line x1="95.47" y1="329" x2="95.47" y2="330.7" stroke="#555555" stroke-width="0.7"/>
<line x1="102.53" y1="329" x2="102.53" y2="330.7" stroke="#555555" stroke-width="0.7"/>
<line x1="109.6" y1="329" x2="109.6" y2="330.7" stroke="#555555" stroke-width="0.7"/>
<line x1="116.67" y1="329" x2="116.67" y2="330.7" stroke="#555555" stroke-width="0.7"/>
<line x1="123.73" y1="329" x2="123.73" y2="330.7" stroke="#555555" stroke-width="0.7"/>
<line x1="130.8" y1="329" x2="130.8" y2="330.7" stroke="#555555" stroke-width="0.7"/>
<line x1="137.87" y1="329" x2="137.87" y2="330.7" stroke="#555555" stroke-width="0.7"/>
<line x1="144.93" y1="329" x2="144.93" y2="330.7" stroke="#555555" stroke-width="0.7"/>
<line x1="152" y1="329" x2="152" y2="330.7" stroke="#555555" stroke-width="0.7"/>
<line x1="159.07" y1="329" x2="159.07" y2="330.7" stroke="#555555" stroke-width="0.7"/>
<line x1="166.13" y1="329" x2="166.13" y2="330.7" stroke="#555555" stroke-width="0.7"/>
<line x1="173.2" y1="329" x2="173.2" y2="330.7" stroke="#555555" stroke-width="0.7"/>
<line x1="180.27" y1="329" x2="180.27" y2="330.7" stroke="#555555" stroke-width="0.7"/>
<line x1="187.33" y1="329" x2="187.33" y2="330.7" stroke="#555555" stroke-width="0.7"/>
<line x1="194.4" y1="329" x2="194.4" y2="330.7" stroke="#555555" stroke-width="0.7"/>
<line x1="201.47" y1="329" x2="201.47" y2="330.7" stroke="#555555" stroke-width="0.7"/>
<line x1="208.53" y1="329" x2="208.53" y2="330.7" stroke="#555555" stroke-width="0.7"/>
<line x1="215.6" y1="329" x2="215.6" y2="330.7" stroke="#555555" stroke-width="0.7"/>
<line x1="222.67" y1="329" x2="222.67" y2="330.7" stroke="#555555" stroke-width="0.7"/>
<line x1="229.73" y1="329" x2="229.73" y2="330.7" stroke="#555555" stroke-width="0.7"/>
<line x1="236.8" y1="329" x2="236.8" y2="330.7" stroke="#555555" stroke-width="0.7"/>
<line x1="243.87" y1="329" x2="243.87" y2="330.7" stroke="#555555" stroke-width="0.7"/>
<line x1="250.93" y1="329" x2="250.93" y2="330.7" stroke="#555555" stroke-width="0.7"/>
<line x1="258" y1="329" x2="258" y2="330.7" stroke="#555555" stroke-width="0.7"/>
<line x1="265.07" y1="329" x2="265.07" y2="330.7" stroke="#555555" stroke-width="0.7"/>
<text x="40.81" y="332.9" font-size="5.7" text-anchor="end" transform="rotate(-89.9 40.81 332.9)" fill="#000000">1985</text>
<text x="47.88" y="332.9" font-size="5.7" text-anchor="end" transform="rotate(-89.9 47.88 332.9)" fill="#000000">1986</text>
<text x="54.95" y="332.9" font-size="5.7" text-anchor="end" transform="rotate(-89.9 54.95 332.9)" fill="#000000">1987</text>
<text x="62.01" y="332.9" font-size="5.7" text-anchor="end" transform="rotate(-89.9 62.01 332.9)" fill="#000000">1988</text>
<text x="69.08" y="332.9" font-size="5.7" text-anchor="end" transform="rotate(-89.9 69.08 332.9)" fill="#000000">1989</text>
<text x="76.15" y="332.9" font-size="5.7" text-anchor="end" transform="rotate(-89.9 76.15 332.9)" fill="#000000">1990</text>
<text x="83.21" y="332.9" font-size="5.7" text-anchor="end" transform="rotate(-89.9 83.21 332.9)" fill="#000000">1991</text>
<text x="90.28" y="332.9" font-size="5.7" text-anchor="end" transform="rotate(-89.9 90.28 332.9)" fill="#000000">1992</text>
<text x="97.35" y="332.9" font-size="5.7" text-anchor="end" transform="rotate(-89.9 97.35 332.9)" fill="#000000">1993</text>
<text x="104.41" y="332.9" font-size="5.7" text-anchor="end" transform="rotate(-89.9 104.41 332.9)" fill="#000000">1994</text>
<text x="111.48" y="332.9" font-size="5.7" text-anchor="end" transform="rotate(-89.9 111.48 332.9)" fill="#000000">1995</text>
<text x="118.55" y="332.9" font-size="5.7" text-anchor="end" transform="rotate(-89.9 118.55 332.9)" fill="#000000">1996</text>
<text x="125.61" y="332.9" font-size="5.7" text-anchor="end" transform="rotate(-89.9 125.61 332.9)" fill="#000000">1997</text>
<text x="132.68" y="332.9" font-size="5.7" text-anchor="end" transform="rotate(-89.9 132.68 332.9)" fill="#000000">1998</text>
<text x="139.75" y="332.9" font-size="5.7" text-anchor="end" transform="rotate(-89.9 139.75 332.9)" fill="#000000">1999</text>
<text x="146.81" y="332.9" font-size="5.7" text-anchor="end" transform="rotate(-89.9 146.81 332.9)" fill="#000000">2000</text>
<text x="153.88" y="332.9" font-size="5.7" text-anchor="end" transform="rotate(-89.9 153.88 332.9)" fill="#000000">2001</text>
<text x="160.95" y="332.9" font-size="5.7" text-anchor="end" transform="rotate(-89.9 160.95 332.9)" fill="#000000">2002</text>
<text x="168.01" y="332.9" font-size="5.7" text-anchor="end" transform="rotate(-89.9 168.01 332.9)" fill="#000000">2003</text>
<text x="175.08" y="332.9" font-size="5.7" text-anchor="end" transform="rotate(-89.9 175.08 332.9)" fill="#000000">2004</text>
<text x="182.15" y="332.9" font-size="5.7" text-anchor="end" transform="rotate(-89.9 182.15 332.9)" fill="#000000">2005</text>
<text x="189.21" y="332.9" font-size="5.7" text-anchor="end" transform="rotate(-89.9 189.21 332.9)" fill="#000000">2006</text>
<text x="196.28" y="332.9" font-size="5.7" text-anchor="end" transform="rotate(-89.9 196.28 332.9)" fill="#000000">2007</text>
<text x="203.35" y="332.9" font-size="5.7" text-anchor="end" transform="rotate(-89.9 203.35 332.9)" fill="#000000">2008</text>
<text x="210.41" y="332.9" font-size="5.7" text-anchor="end" transform="rotate(-89.9 210.41 332.9)" fill="#000000">2009</text>
<text x="217.48" y="332.9" font-size="5.7" text-anchor="end" transform="rotate(-89.9 217.48 332.9)" fill="#000000">2010</text>
<text x="224.55" y="332.9" font-size="5.7" text-anchor="end" transform="rotate(-89.9 224.55 332.9)" fill="#000000">2011</text>
<text x="231.61" y="332.9" font-size="5.7" text-anchor="end" transform="rotate(-89.9 231.61 332.9)" fill="#000000">2012</text>
<text x="238.68" y="332.9" font-size="5.7" text-anchor="end" transform="rotate(-89.9 238.68 332.9)" fill="#000000">2013</text>
<text x="245.75" y="332.9" font-size="5.7" text-anchor="end" transform="rotate(-89.9 245.75 332.9)" fill="#000000">2014</text>
<text x="252.81" y="332.9" font-size="5.7" text-anchor="end" transform="rotate(-89.9 252.81 332.9)" fill="#000000">2015</text>
<text x="259.88" y="332.9" font-size="5.7" text-anchor="end" transform="rotate(-89.9 259.88 332.9)" fill="#000000">2016</text>
<text x="266.95" y="332.9" font-size="5.7" text-anchor="end" transform="rotate(-89.9 266.95 332.9)" fill="#000000">2017</text>
<text x="265.1" y="187.8" font-size="14.6" text-anchor="end" font-weight="bold" letter-spacing="0.4" fill="#000">(c)</text>
<text x="11.5" y="250.15" font-size="8.0" text-anchor="middle" transform="rotate(-89.9 11.5 250.15)" fill="#000000">Area (km<tspan baseline-shift="super" font-size="5">2</tspan>)</text>
<rect x="279.5" y="171.5" width="233.3" height="157.5" fill="#fff" stroke="#7c7c7c" stroke-width="0.9"/>
<rect x="280.58" y="185.9" width="4.9" height="143.1" fill="#444444"/>
<rect x="287.65" y="185.05" width="4.9" height="143.95" fill="#444444"/>
<rect x="294.72" y="187.5" width="4.9" height="141.5" fill="#444444"/>
<rect x="301.79" y="192.1" width="4.9" height="136.9" fill="#444444"/>
<rect x="308.86" y="190.3" width="4.9" height="138.7" fill="#444444"/>
<rect x="315.93" y="185.9" width="4.9" height="143.1" fill="#444444"/>
<rect x="323" y="183.9" width="4.9" height="145.1" fill="#444444"/>
<rect x="330.07" y="182.6" width="4.9" height="146.4" fill="#444444"/>
<rect x="337.14" y="181.9" width="4.9" height="147.1" fill="#444444"/>
<rect x="344.21" y="187.7" width="4.9" height="141.3" fill="#444444"/>
<rect x="351.28" y="194.1" width="4.9" height="134.9" fill="#444444"/>
<rect x="358.35" y="193.5" width="4.9" height="135.5" fill="#444444"/>
<rect x="365.42" y="193.7" width="4.9" height="135.3" fill="#444444"/>
<rect x="372.49" y="196.15" width="4.9" height="132.85" fill="#444444"/>
<rect x="379.56" y="203.1" width="4.9" height="125.9" fill="#444444"/>
<rect x="386.63" y="211.6" width="4.9" height="117.4" fill="#444444"/>
<rect x="393.7" y="214.8" width="4.9" height="114.2" fill="#444444"/>
<rect x="400.77" y="213.3" width="4.9" height="115.7" fill="#444444"/>
<rect x="407.84" y="217.9" width="4.9" height="111.1" fill="#444444"/>
<rect x="414.91" y="219.1" width="4.9" height="109.9" fill="#444444"/>
<rect x="421.98" y="220.2" width="4.9" height="108.8" fill="#444444"/>
<rect x="429.05" y="223.65" width="4.9" height="105.35" fill="#444444"/>
<rect x="436.12" y="227.75" width="4.9" height="101.25" fill="#444444"/>
<rect x="443.19" y="231.5" width="4.9" height="97.5" fill="#444444"/>
<rect x="450.26" y="233" width="4.9" height="96" fill="#444444"/>
<rect x="457.33" y="234.9" width="4.9" height="94.1" fill="#444444"/>
<rect x="464.4" y="236.9" width="4.9" height="92.1" fill="#444444"/>
<rect x="471.47" y="238.1" width="4.9" height="90.9" fill="#444444"/>
<rect x="478.54" y="236.6" width="4.9" height="92.4" fill="#444444"/>
<rect x="485.61" y="240.05" width="4.9" height="88.95" fill="#444444"/>
<rect x="492.68" y="238.4" width="4.9" height="90.6" fill="#444444"/>
<rect x="499.75" y="237.25" width="4.9" height="91.75" fill="#444444"/>
<rect x="506.82" y="239.9" width="4.9" height="89.1" fill="#444444"/>
<rect x="279.5" y="185.9" width="1.18" height="143.1" fill="#c8c8c8"/>
<rect x="511.62" y="239.9" width="1.18" height="89.1" fill="#a4a4a4"/>
<line x1="512.55" y1="171.5" x2="512.55" y2="329" stroke="#606060" stroke-width="0.85"/>
<line x1="279.1" y1="329" x2="513.2" y2="329" stroke="#3a3a3a" stroke-width="0.9"/>
<line x1="510.9" y1="329" x2="514.4" y2="329" stroke="#555555" stroke-width="0.7"/>
<text x="518.3" y="330.88" font-size="5.7" transform="rotate(0.1 518.3 330.88)" fill="#000000">0</text>
<line x1="510.9" y1="302.75" x2="514.4" y2="302.75" stroke="#555555" stroke-width="0.7"/>
<text x="518.3" y="304.63" font-size="5.7" transform="rotate(0.1 518.3 304.63)" fill="#000000">10000</text>
<line x1="510.9" y1="276.5" x2="514.4" y2="276.5" stroke="#555555" stroke-width="0.7"/>
<text x="518.3" y="278.38" font-size="5.7" transform="rotate(0.1 518.3 278.38)" fill="#000000">20000</text>
<line x1="510.9" y1="250.25" x2="514.4" y2="250.25" stroke="#555555" stroke-width="0.7"/>
<text x="518.3" y="252.13" font-size="5.7" transform="rotate(0.1 518.3 252.13)" fill="#000000">30000</text>
<line x1="510.9" y1="224" x2="514.4" y2="224" stroke="#555555" stroke-width="0.7"/>
<text x="518.3" y="225.88" font-size="5.7" transform="rotate(0.1 518.3 225.88)" fill="#000000">40000</text>
<line x1="510.9" y1="197.75" x2="514.4" y2="197.75" stroke="#555555" stroke-width="0.7"/>
<text x="518.3" y="199.63" font-size="5.7" transform="rotate(0.1 518.3 199.63)" fill="#000000">50000</text>
<line x1="510.9" y1="171.5" x2="514.4" y2="171.5" stroke="#555555" stroke-width="0.7"/>
<text x="518.3" y="173.38" font-size="5.7" transform="rotate(0.1 518.3 173.38)" fill="#000000">60000</text>
<line x1="283.03" y1="329" x2="283.03" y2="330.7" stroke="#555555" stroke-width="0.7"/>
<line x1="290.1" y1="329" x2="290.1" y2="330.7" stroke="#555555" stroke-width="0.7"/>
<line x1="297.17" y1="329" x2="297.17" y2="330.7" stroke="#555555" stroke-width="0.7"/>
<line x1="304.24" y1="329" x2="304.24" y2="330.7" stroke="#555555" stroke-width="0.7"/>
<line x1="311.31" y1="329" x2="311.31" y2="330.7" stroke="#555555" stroke-width="0.7"/>
<line x1="318.38" y1="329" x2="318.38" y2="330.7" stroke="#555555" stroke-width="0.7"/>
<line x1="325.45" y1="329" x2="325.45" y2="330.7" stroke="#555555" stroke-width="0.7"/>
<line x1="332.52" y1="329" x2="332.52" y2="330.7" stroke="#555555" stroke-width="0.7"/>
<line x1="339.59" y1="329" x2="339.59" y2="330.7" stroke="#555555" stroke-width="0.7"/>
<line x1="346.66" y1="329" x2="346.66" y2="330.7" stroke="#555555" stroke-width="0.7"/>
<line x1="353.73" y1="329" x2="353.73" y2="330.7" stroke="#555555" stroke-width="0.7"/>
<line x1="360.8" y1="329" x2="360.8" y2="330.7" stroke="#555555" stroke-width="0.7"/>
<line x1="367.87" y1="329" x2="367.87" y2="330.7" stroke="#555555" stroke-width="0.7"/>
<line x1="374.94" y1="329" x2="374.94" y2="330.7" stroke="#555555" stroke-width="0.7"/>
<line x1="382.01" y1="329" x2="382.01" y2="330.7" stroke="#555555" stroke-width="0.7"/>
<line x1="389.08" y1="329" x2="389.08" y2="330.7" stroke="#555555" stroke-width="0.7"/>
<line x1="396.15" y1="329" x2="396.15" y2="330.7" stroke="#555555" stroke-width="0.7"/>
<line x1="403.22" y1="329" x2="403.22" y2="330.7" stroke="#555555" stroke-width="0.7"/>
<line x1="410.29" y1="329" x2="410.29" y2="330.7" stroke="#555555" stroke-width="0.7"/>
<line x1="417.36" y1="329" x2="417.36" y2="330.7" stroke="#555555" stroke-width="0.7"/>
<line x1="424.43" y1="329" x2="424.43" y2="330.7" stroke="#555555" stroke-width="0.7"/>
<line x1="431.5" y1="329" x2="431.5" y2="330.7" stroke="#555555" stroke-width="0.7"/>
<line x1="438.57" y1="329" x2="438.57" y2="330.7" stroke="#555555" stroke-width="0.7"/>
<line x1="445.64" y1="329" x2="445.64" y2="330.7" stroke="#555555" stroke-width="0.7"/>
<line x1="452.71" y1="329" x2="452.71" y2="330.7" stroke="#555555" stroke-width="0.7"/>
<line x1="459.78" y1="329" x2="459.78" y2="330.7" stroke="#555555" stroke-width="0.7"/>
<line x1="466.85" y1="329" x2="466.85" y2="330.7" stroke="#555555" stroke-width="0.7"/>
<line x1="473.92" y1="329" x2="473.92" y2="330.7" stroke="#555555" stroke-width="0.7"/>
<line x1="480.99" y1="329" x2="480.99" y2="330.7" stroke="#555555" stroke-width="0.7"/>
<line x1="488.06" y1="329" x2="488.06" y2="330.7" stroke="#555555" stroke-width="0.7"/>
<line x1="495.13" y1="329" x2="495.13" y2="330.7" stroke="#555555" stroke-width="0.7"/>
<line x1="502.2" y1="329" x2="502.2" y2="330.7" stroke="#555555" stroke-width="0.7"/>
<line x1="509.27" y1="329" x2="509.27" y2="330.7" stroke="#555555" stroke-width="0.7"/>
<text x="284.92" y="332.9" font-size="5.7" text-anchor="end" transform="rotate(-89.9 284.92 332.9)" fill="#000000">1985</text>
<text x="291.99" y="332.9" font-size="5.7" text-anchor="end" transform="rotate(-89.9 291.99 332.9)" fill="#000000">1986</text>
<text x="299.06" y="332.9" font-size="5.7" text-anchor="end" transform="rotate(-89.9 299.06 332.9)" fill="#000000">1987</text>
<text x="306.12" y="332.9" font-size="5.7" text-anchor="end" transform="rotate(-89.9 306.12 332.9)" fill="#000000">1988</text>
<text x="313.19" y="332.9" font-size="5.7" text-anchor="end" transform="rotate(-89.9 313.19 332.9)" fill="#000000">1989</text>
<text x="320.26" y="332.9" font-size="5.7" text-anchor="end" transform="rotate(-89.9 320.26 332.9)" fill="#000000">1990</text>
<text x="327.33" y="332.9" font-size="5.7" text-anchor="end" transform="rotate(-89.9 327.33 332.9)" fill="#000000">1991</text>
<text x="334.4" y="332.9" font-size="5.7" text-anchor="end" transform="rotate(-89.9 334.4 332.9)" fill="#000000">1992</text>
<text x="341.47" y="332.9" font-size="5.7" text-anchor="end" transform="rotate(-89.9 341.47 332.9)" fill="#000000">1993</text>
<text x="348.54" y="332.9" font-size="5.7" text-anchor="end" transform="rotate(-89.9 348.54 332.9)" fill="#000000">1994</text>
<text x="355.61" y="332.9" font-size="5.7" text-anchor="end" transform="rotate(-89.9 355.61 332.9)" fill="#000000">1995</text>
<text x="362.68" y="332.9" font-size="5.7" text-anchor="end" transform="rotate(-89.9 362.68 332.9)" fill="#000000">1996</text>
<text x="369.75" y="332.9" font-size="5.7" text-anchor="end" transform="rotate(-89.9 369.75 332.9)" fill="#000000">1997</text>
<text x="376.82" y="332.9" font-size="5.7" text-anchor="end" transform="rotate(-89.9 376.82 332.9)" fill="#000000">1998</text>
<text x="383.89" y="332.9" font-size="5.7" text-anchor="end" transform="rotate(-89.9 383.89 332.9)" fill="#000000">1999</text>
<text x="390.96" y="332.9" font-size="5.7" text-anchor="end" transform="rotate(-89.9 390.96 332.9)" fill="#000000">2000</text>
<text x="398.03" y="332.9" font-size="5.7" text-anchor="end" transform="rotate(-89.9 398.03 332.9)" fill="#000000">2001</text>
<text x="405.1" y="332.9" font-size="5.7" text-anchor="end" transform="rotate(-89.9 405.1 332.9)" fill="#000000">2002</text>
<text x="412.17" y="332.9" font-size="5.7" text-anchor="end" transform="rotate(-89.9 412.17 332.9)" fill="#000000">2003</text>
<text x="419.24" y="332.9" font-size="5.7" text-anchor="end" transform="rotate(-89.9 419.24 332.9)" fill="#000000">2004</text>
<text x="426.31" y="332.9" font-size="5.7" text-anchor="end" transform="rotate(-89.9 426.31 332.9)" fill="#000000">2005</text>
<text x="433.38" y="332.9" font-size="5.7" text-anchor="end" transform="rotate(-89.9 433.38 332.9)" fill="#000000">2006</text>
<text x="440.45" y="332.9" font-size="5.7" text-anchor="end" transform="rotate(-89.9 440.45 332.9)" fill="#000000">2007</text>
<text x="447.52" y="332.9" font-size="5.7" text-anchor="end" transform="rotate(-89.9 447.52 332.9)" fill="#000000">2008</text>
<text x="454.59" y="332.9" font-size="5.7" text-anchor="end" transform="rotate(-89.9 454.59 332.9)" fill="#000000">2009</text>
<text x="461.66" y="332.9" font-size="5.7" text-anchor="end" transform="rotate(-89.9 461.66 332.9)" fill="#000000">2010</text>
<text x="468.73" y="332.9" font-size="5.7" text-anchor="end" transform="rotate(-89.9 468.73 332.9)" fill="#000000">2011</text>
<text x="475.8" y="332.9" font-size="5.7" text-anchor="end" transform="rotate(-89.9 475.8 332.9)" fill="#000000">2012</text>
<text x="482.87" y="332.9" font-size="5.7" text-anchor="end" transform="rotate(-89.9 482.87 332.9)" fill="#000000">2013</text>
<text x="489.94" y="332.9" font-size="5.7" text-anchor="end" transform="rotate(-89.9 489.94 332.9)" fill="#000000">2014</text>
<text x="497.01" y="332.9" font-size="5.7" text-anchor="end" transform="rotate(-89.9 497.01 332.9)" fill="#000000">2015</text>
<text x="504.08" y="332.9" font-size="5.7" text-anchor="end" transform="rotate(-89.9 504.08 332.9)" fill="#000000">2016</text>
<text x="511.15" y="332.9" font-size="5.7" text-anchor="end" transform="rotate(-89.9 511.15 332.9)" fill="#000000">2017</text>
<text x="507.7" y="187.4" font-size="14.6" text-anchor="end" font-weight="bold" letter-spacing="0.4" fill="#000">(d)</text>
<text x="541.4" y="251.55" font-size="8.8" text-anchor="middle" transform="rotate(-89.9 541.4 251.55)" fill="#000000">Area (km<tspan baseline-shift="super" font-size="5">2</tspan>)</text>
<rect x="35.4" y="354.1" width="233.2" height="157.1" fill="#fff" stroke="#7c7c7c" stroke-width="0.9"/>
<rect x="36.73" y="472.5" width="4.4" height="38.7" fill="#A45A06"/>
<rect x="43.8" y="475.7" width="4.4" height="35.5" fill="#A45A06"/>
<rect x="50.87" y="470.05" width="4.4" height="41.15" fill="#A45A06"/>
<rect x="57.93" y="461.3" width="4.4" height="49.9" fill="#A45A06"/>
<rect x="65" y="451.1" width="4.4" height="60.1" fill="#A45A06"/>
<rect x="72.07" y="452.1" width="4.4" height="59.1" fill="#A45A06"/>
<rect x="79.13" y="456.7" width="4.4" height="54.5" fill="#A45A06"/>
<rect x="86.2" y="457.7" width="4.4" height="53.5" fill="#A45A06"/>
<rect x="93.27" y="457.7" width="4.4" height="53.5" fill="#A45A06"/>
<rect x="100.33" y="450.9" width="4.4" height="60.3" fill="#A45A06"/>
<rect x="107.4" y="447.35" width="4.4" height="63.85" fill="#A45A06"/>
<rect x="114.47" y="450.15" width="4.4" height="61.05" fill="#A45A06"/>
<rect x="121.53" y="441.6" width="4.4" height="69.6" fill="#A45A06"/>
<rect x="128.6" y="437.2" width="4.4" height="74" fill="#A45A06"/>
<rect x="135.67" y="432.9" width="4.4" height="78.3" fill="#A45A06"/>
<rect x="142.73" y="422" width="4.4" height="89.2" fill="#A45A06"/>
<rect x="149.8" y="428" width="4.4" height="83.2" fill="#A45A06"/>
<rect x="156.87" y="427.6" width="4.4" height="83.6" fill="#A45A06"/>
<rect x="163.93" y="418.2" width="4.4" height="93" fill="#A45A06"/>
<rect x="171" y="413.5" width="4.4" height="97.7" fill="#A45A06"/>
<rect x="178.07" y="414.3" width="4.4" height="96.9" fill="#A45A06"/>
<rect x="185.13" y="412.75" width="4.4" height="98.45" fill="#A45A06"/>
<rect x="192.2" y="412" width="4.4" height="99.2" fill="#A45A06"/>
<rect x="199.27" y="406.75" width="4.4" height="104.45" fill="#A45A06"/>
<rect x="206.33" y="405.6" width="4.4" height="105.6" fill="#A45A06"/>
<rect x="213.4" y="402.1" width="4.4" height="109.1" fill="#A45A06"/>
<rect x="220.47" y="394.9" width="4.4" height="116.3" fill="#A45A06"/>
<rect x="227.53" y="392.25" width="4.4" height="118.95" fill="#A45A06"/>
<rect x="234.6" y="393.2" width="4.4" height="118" fill="#A45A06"/>
<rect x="241.67" y="390.3" width="4.4" height="120.9" fill="#A45A06"/>
<rect x="248.73" y="386.15" width="4.4" height="125.05" fill="#A45A06"/>
<rect x="255.8" y="372" width="4.4" height="139.2" fill="#A45A06"/>
<rect x="262.87" y="379.9" width="4.4" height="131.3" fill="#A45A06"/>
<rect x="35.4" y="472.5" width="1.43" height="38.7" fill="#a4a4a4"/>
<rect x="267.17" y="379.9" width="1.43" height="131.3" fill="#c8c8c8"/>
<line x1="35.65" y1="354.1" x2="35.65" y2="511.2" stroke="#606060" stroke-width="0.85"/>
<line x1="35" y1="511.2" x2="269" y2="511.2" stroke="#3a3a3a" stroke-width="0.9"/>
<line x1="33.5" y1="511.2" x2="36" y2="511.2" stroke="#555555" stroke-width="0.7"/>
<text x="29.8" y="513.08" font-size="5.7" text-anchor="end" transform="rotate(0.1 29.8 513.08)" fill="#000000">0</text>
<line x1="33.5" y1="488.76" x2="36" y2="488.76" stroke="#555555" stroke-width="0.7"/>
<text x="29.8" y="490.64" font-size="5.7" text-anchor="end" transform="rotate(0.1 29.8 490.64)" fill="#000000">2000</text>
<line x1="33.5" y1="466.31" x2="36" y2="466.31" stroke="#555555" stroke-width="0.7"/>
<text x="29.8" y="468.2" font-size="5.7" text-anchor="end" transform="rotate(0.1 29.8 468.2)" fill="#000000">4000</text>
<line x1="33.5" y1="443.87" x2="36" y2="443.87" stroke="#555555" stroke-width="0.7"/>
<text x="29.8" y="445.75" font-size="5.7" text-anchor="end" transform="rotate(0.1 29.8 445.75)" fill="#000000">6000</text>
<line x1="33.5" y1="421.43" x2="36" y2="421.43" stroke="#555555" stroke-width="0.7"/>
<text x="29.8" y="423.31" font-size="5.7" text-anchor="end" transform="rotate(0.1 29.8 423.31)" fill="#000000">8000</text>
<line x1="33.5" y1="398.99" x2="36" y2="398.99" stroke="#555555" stroke-width="0.7"/>
<text x="29.8" y="400.87" font-size="5.7" text-anchor="end" transform="rotate(0.1 29.8 400.87)" fill="#000000">10000</text>
<line x1="33.5" y1="376.54" x2="36" y2="376.54" stroke="#555555" stroke-width="0.7"/>
<text x="29.8" y="378.42" font-size="5.7" text-anchor="end" transform="rotate(0.1 29.8 378.42)" fill="#000000">12000</text>
<line x1="33.5" y1="354.1" x2="36" y2="354.1" stroke="#555555" stroke-width="0.7"/>
<text x="29.8" y="355.98" font-size="5.7" text-anchor="end" transform="rotate(0.1 29.8 355.98)" fill="#000000">14000</text>
<line x1="38.93" y1="511.2" x2="38.93" y2="512.9" stroke="#555555" stroke-width="0.7"/>
<line x1="46" y1="511.2" x2="46" y2="512.9" stroke="#555555" stroke-width="0.7"/>
<line x1="53.07" y1="511.2" x2="53.07" y2="512.9" stroke="#555555" stroke-width="0.7"/>
<line x1="60.13" y1="511.2" x2="60.13" y2="512.9" stroke="#555555" stroke-width="0.7"/>
<line x1="67.2" y1="511.2" x2="67.2" y2="512.9" stroke="#555555" stroke-width="0.7"/>
<line x1="74.27" y1="511.2" x2="74.27" y2="512.9" stroke="#555555" stroke-width="0.7"/>
<line x1="81.33" y1="511.2" x2="81.33" y2="512.9" stroke="#555555" stroke-width="0.7"/>
<line x1="88.4" y1="511.2" x2="88.4" y2="512.9" stroke="#555555" stroke-width="0.7"/>
<line x1="95.47" y1="511.2" x2="95.47" y2="512.9" stroke="#555555" stroke-width="0.7"/>
<line x1="102.53" y1="511.2" x2="102.53" y2="512.9" stroke="#555555" stroke-width="0.7"/>
<line x1="109.6" y1="511.2" x2="109.6" y2="512.9" stroke="#555555" stroke-width="0.7"/>
<line x1="116.67" y1="511.2" x2="116.67" y2="512.9" stroke="#555555" stroke-width="0.7"/>
<line x1="123.73" y1="511.2" x2="123.73" y2="512.9" stroke="#555555" stroke-width="0.7"/>
<line x1="130.8" y1="511.2" x2="130.8" y2="512.9" stroke="#555555" stroke-width="0.7"/>
<line x1="137.87" y1="511.2" x2="137.87" y2="512.9" stroke="#555555" stroke-width="0.7"/>
<line x1="144.93" y1="511.2" x2="144.93" y2="512.9" stroke="#555555" stroke-width="0.7"/>
<line x1="152" y1="511.2" x2="152" y2="512.9" stroke="#555555" stroke-width="0.7"/>
<line x1="159.07" y1="511.2" x2="159.07" y2="512.9" stroke="#555555" stroke-width="0.7"/>
<line x1="166.13" y1="511.2" x2="166.13" y2="512.9" stroke="#555555" stroke-width="0.7"/>
<line x1="173.2" y1="511.2" x2="173.2" y2="512.9" stroke="#555555" stroke-width="0.7"/>
<line x1="180.27" y1="511.2" x2="180.27" y2="512.9" stroke="#555555" stroke-width="0.7"/>
<line x1="187.33" y1="511.2" x2="187.33" y2="512.9" stroke="#555555" stroke-width="0.7"/>
<line x1="194.4" y1="511.2" x2="194.4" y2="512.9" stroke="#555555" stroke-width="0.7"/>
<line x1="201.47" y1="511.2" x2="201.47" y2="512.9" stroke="#555555" stroke-width="0.7"/>
<line x1="208.53" y1="511.2" x2="208.53" y2="512.9" stroke="#555555" stroke-width="0.7"/>
<line x1="215.6" y1="511.2" x2="215.6" y2="512.9" stroke="#555555" stroke-width="0.7"/>
<line x1="222.67" y1="511.2" x2="222.67" y2="512.9" stroke="#555555" stroke-width="0.7"/>
<line x1="229.73" y1="511.2" x2="229.73" y2="512.9" stroke="#555555" stroke-width="0.7"/>
<line x1="236.8" y1="511.2" x2="236.8" y2="512.9" stroke="#555555" stroke-width="0.7"/>
<line x1="243.87" y1="511.2" x2="243.87" y2="512.9" stroke="#555555" stroke-width="0.7"/>
<line x1="250.93" y1="511.2" x2="250.93" y2="512.9" stroke="#555555" stroke-width="0.7"/>
<line x1="258" y1="511.2" x2="258" y2="512.9" stroke="#555555" stroke-width="0.7"/>
<line x1="265.07" y1="511.2" x2="265.07" y2="512.9" stroke="#555555" stroke-width="0.7"/>
<text x="40.81" y="515.1" font-size="5.7" text-anchor="end" transform="rotate(-89.9 40.81 515.1)" fill="#000000">1985</text>
<text x="47.88" y="515.1" font-size="5.7" text-anchor="end" transform="rotate(-89.9 47.88 515.1)" fill="#000000">1986</text>
<text x="54.95" y="515.1" font-size="5.7" text-anchor="end" transform="rotate(-89.9 54.95 515.1)" fill="#000000">1987</text>
<text x="62.01" y="515.1" font-size="5.7" text-anchor="end" transform="rotate(-89.9 62.01 515.1)" fill="#000000">1988</text>
<text x="69.08" y="515.1" font-size="5.7" text-anchor="end" transform="rotate(-89.9 69.08 515.1)" fill="#000000">1989</text>
<text x="76.15" y="515.1" font-size="5.7" text-anchor="end" transform="rotate(-89.9 76.15 515.1)" fill="#000000">1990</text>
<text x="83.21" y="515.1" font-size="5.7" text-anchor="end" transform="rotate(-89.9 83.21 515.1)" fill="#000000">1991</text>
<text x="90.28" y="515.1" font-size="5.7" text-anchor="end" transform="rotate(-89.9 90.28 515.1)" fill="#000000">1992</text>
<text x="97.35" y="515.1" font-size="5.7" text-anchor="end" transform="rotate(-89.9 97.35 515.1)" fill="#000000">1993</text>
<text x="104.41" y="515.1" font-size="5.7" text-anchor="end" transform="rotate(-89.9 104.41 515.1)" fill="#000000">1994</text>
<text x="111.48" y="515.1" font-size="5.7" text-anchor="end" transform="rotate(-89.9 111.48 515.1)" fill="#000000">1995</text>
<text x="118.55" y="515.1" font-size="5.7" text-anchor="end" transform="rotate(-89.9 118.55 515.1)" fill="#000000">1996</text>
<text x="125.61" y="515.1" font-size="5.7" text-anchor="end" transform="rotate(-89.9 125.61 515.1)" fill="#000000">1997</text>
<text x="132.68" y="515.1" font-size="5.7" text-anchor="end" transform="rotate(-89.9 132.68 515.1)" fill="#000000">1998</text>
<text x="139.75" y="515.1" font-size="5.7" text-anchor="end" transform="rotate(-89.9 139.75 515.1)" fill="#000000">1999</text>
<text x="146.81" y="515.1" font-size="5.7" text-anchor="end" transform="rotate(-89.9 146.81 515.1)" fill="#000000">2000</text>
<text x="153.88" y="515.1" font-size="5.7" text-anchor="end" transform="rotate(-89.9 153.88 515.1)" fill="#000000">2001</text>
<text x="160.95" y="515.1" font-size="5.7" text-anchor="end" transform="rotate(-89.9 160.95 515.1)" fill="#000000">2002</text>
<text x="168.01" y="515.1" font-size="5.7" text-anchor="end" transform="rotate(-89.9 168.01 515.1)" fill="#000000">2003</text>
<text x="175.08" y="515.1" font-size="5.7" text-anchor="end" transform="rotate(-89.9 175.08 515.1)" fill="#000000">2004</text>
<text x="182.15" y="515.1" font-size="5.7" text-anchor="end" transform="rotate(-89.9 182.15 515.1)" fill="#000000">2005</text>
<text x="189.21" y="515.1" font-size="5.7" text-anchor="end" transform="rotate(-89.9 189.21 515.1)" fill="#000000">2006</text>
<text x="196.28" y="515.1" font-size="5.7" text-anchor="end" transform="rotate(-89.9 196.28 515.1)" fill="#000000">2007</text>
<text x="203.35" y="515.1" font-size="5.7" text-anchor="end" transform="rotate(-89.9 203.35 515.1)" fill="#000000">2008</text>
<text x="210.41" y="515.1" font-size="5.7" text-anchor="end" transform="rotate(-89.9 210.41 515.1)" fill="#000000">2009</text>
<text x="217.48" y="515.1" font-size="5.7" text-anchor="end" transform="rotate(-89.9 217.48 515.1)" fill="#000000">2010</text>
<text x="224.55" y="515.1" font-size="5.7" text-anchor="end" transform="rotate(-89.9 224.55 515.1)" fill="#000000">2011</text>
<text x="231.61" y="515.1" font-size="5.7" text-anchor="end" transform="rotate(-89.9 231.61 515.1)" fill="#000000">2012</text>
<text x="238.68" y="515.1" font-size="5.7" text-anchor="end" transform="rotate(-89.9 238.68 515.1)" fill="#000000">2013</text>
<text x="245.75" y="515.1" font-size="5.7" text-anchor="end" transform="rotate(-89.9 245.75 515.1)" fill="#000000">2014</text>
<text x="252.81" y="515.1" font-size="5.7" text-anchor="end" transform="rotate(-89.9 252.81 515.1)" fill="#000000">2015</text>
<text x="259.88" y="515.1" font-size="5.7" text-anchor="end" transform="rotate(-89.9 259.88 515.1)" fill="#000000">2016</text>
<text x="266.95" y="515.1" font-size="5.7" text-anchor="end" transform="rotate(-89.9 266.95 515.1)" fill="#000000">2017</text>
<text x="265.5" y="368.8" font-size="14.6" text-anchor="end" font-weight="bold" letter-spacing="0.4" fill="#000">(e)</text>
<text x="11.5" y="432.65" font-size="8.0" text-anchor="middle" transform="rotate(-89.9 11.5 432.65)" fill="#000000">Area (km<tspan baseline-shift="super" font-size="5">2</tspan>)</text>
<rect x="279.4" y="354" width="236.2" height="157.2" fill="#fff" stroke="#7c7c7c" stroke-width="0.9"/>
<rect x="280.43" y="371.5" width="5.1" height="139.7" fill="#0C70C6"/>
<rect x="287.59" y="396.4" width="5.1" height="114.8" fill="#0C70C6"/>
<rect x="294.74" y="402.4" width="5.1" height="108.8" fill="#0C70C6"/>
<rect x="301.9" y="407.4" width="5.1" height="103.8" fill="#0C70C6"/>
<rect x="309.06" y="403.2" width="5.1" height="108" fill="#0C70C6"/>
<rect x="316.22" y="432" width="5.1" height="79.2" fill="#0C70C6"/>
<rect x="323.37" y="431.15" width="5.1" height="80.05" fill="#0C70C6"/>
<rect x="330.53" y="424" width="5.1" height="87.2" fill="#0C70C6"/>
<rect x="337.69" y="435.4" width="5.1" height="75.8" fill="#0C70C6"/>
<rect x="344.85" y="446.3" width="5.1" height="64.9" fill="#0C70C6"/>
<rect x="352" y="451.9" width="5.1" height="59.3" fill="#0C70C6"/>
<rect x="359.16" y="451.9" width="5.1" height="59.3" fill="#0C70C6"/>
<rect x="366.32" y="449" width="5.1" height="62.2" fill="#0C70C6"/>
<rect x="373.48" y="456.7" width="5.1" height="54.5" fill="#0C70C6"/>
<rect x="380.63" y="456.8" width="5.1" height="54.4" fill="#0C70C6"/>
<rect x="387.79" y="455.1" width="5.1" height="56.1" fill="#0C70C6"/>
<rect x="394.95" y="464.6" width="5.1" height="46.6" fill="#0C70C6"/>
<rect x="402.11" y="458.8" width="5.1" height="52.4" fill="#0C70C6"/>
<rect x="409.27" y="475.8" width="5.1" height="35.4" fill="#0C70C6"/>
<rect x="416.42" y="472.4" width="5.1" height="38.8" fill="#0C70C6"/>
<rect x="423.58" y="458.8" width="5.1" height="52.4" fill="#0C70C6"/>
<rect x="430.74" y="461.8" width="5.1" height="49.4" fill="#0C70C6"/>
<rect x="437.9" y="477.45" width="5.1" height="33.75" fill="#0C70C6"/>
<rect x="445.05" y="477.1" width="5.1" height="34.1" fill="#0C70C6"/>
<rect x="452.21" y="472.15" width="5.1" height="39.05" fill="#0C70C6"/>
<rect x="459.37" y="478.5" width="5.1" height="32.7" fill="#0C70C6"/>
<rect x="466.53" y="466.35" width="5.1" height="44.85" fill="#0C70C6"/>
<rect x="473.68" y="465.9" width="5.1" height="45.3" fill="#0C70C6"/>
<rect x="480.84" y="462.1" width="5.1" height="49.1" fill="#0C70C6"/>
<rect x="488" y="460.6" width="5.1" height="50.6" fill="#0C70C6"/>
<rect x="495.16" y="477.25" width="5.1" height="33.95" fill="#0C70C6"/>
<rect x="502.31" y="461.4" width="5.1" height="49.8" fill="#0C70C6"/>
<rect x="509.47" y="461.9" width="5.1" height="49.3" fill="#0C70C6"/>
<rect x="279.4" y="371.5" width="1.13" height="139.7" fill="#c8c8c8"/>
<rect x="514.47" y="461.9" width="1.13" height="49.3" fill="#a4a4a4"/>
<line x1="515.35" y1="354" x2="515.35" y2="511.2" stroke="#606060" stroke-width="0.85"/>
<line x1="279" y1="511.2" x2="516" y2="511.2" stroke="#3a3a3a" stroke-width="0.9"/>
<line x1="513.7" y1="511.2" x2="517.2" y2="511.2" stroke="#555555" stroke-width="0.7"/>
<text x="520.9" y="513.08" font-size="5.7" transform="rotate(0.1 520.9 513.08)" fill="#000000">0</text>
<line x1="513.7" y1="488.74" x2="517.2" y2="488.74" stroke="#555555" stroke-width="0.7"/>
<text x="520.9" y="490.62" font-size="5.7" transform="rotate(0.1 520.9 490.62)" fill="#000000">500</text>
<line x1="513.7" y1="466.29" x2="517.2" y2="466.29" stroke="#555555" stroke-width="0.7"/>
<text x="520.9" y="468.17" font-size="5.7" transform="rotate(0.1 520.9 468.17)" fill="#000000">1000</text>
<line x1="513.7" y1="443.83" x2="517.2" y2="443.83" stroke="#555555" stroke-width="0.7"/>
<text x="520.9" y="445.71" font-size="5.7" transform="rotate(0.1 520.9 445.71)" fill="#000000">1500</text>
<line x1="513.7" y1="421.37" x2="517.2" y2="421.37" stroke="#555555" stroke-width="0.7"/>
<text x="520.9" y="423.25" font-size="5.7" transform="rotate(0.1 520.9 423.25)" fill="#000000">2000</text>
<line x1="513.7" y1="398.91" x2="517.2" y2="398.91" stroke="#555555" stroke-width="0.7"/>
<text x="520.9" y="400.8" font-size="5.7" transform="rotate(0.1 520.9 400.8)" fill="#000000">2500</text>
<line x1="513.7" y1="376.46" x2="517.2" y2="376.46" stroke="#555555" stroke-width="0.7"/>
<text x="520.9" y="378.34" font-size="5.7" transform="rotate(0.1 520.9 378.34)" fill="#000000">3000</text>
<line x1="513.7" y1="354" x2="517.2" y2="354" stroke="#555555" stroke-width="0.7"/>
<text x="520.9" y="355.88" font-size="5.7" transform="rotate(0.1 520.9 355.88)" fill="#000000">3500</text>
<line x1="282.98" y1="511.2" x2="282.98" y2="512.9" stroke="#555555" stroke-width="0.7"/>
<line x1="290.14" y1="511.2" x2="290.14" y2="512.9" stroke="#555555" stroke-width="0.7"/>
<line x1="297.29" y1="511.2" x2="297.29" y2="512.9" stroke="#555555" stroke-width="0.7"/>
<line x1="304.45" y1="511.2" x2="304.45" y2="512.9" stroke="#555555" stroke-width="0.7"/>
<line x1="311.61" y1="511.2" x2="311.61" y2="512.9" stroke="#555555" stroke-width="0.7"/>
<line x1="318.77" y1="511.2" x2="318.77" y2="512.9" stroke="#555555" stroke-width="0.7"/>
<line x1="325.92" y1="511.2" x2="325.92" y2="512.9" stroke="#555555" stroke-width="0.7"/>
<line x1="333.08" y1="511.2" x2="333.08" y2="512.9" stroke="#555555" stroke-width="0.7"/>
<line x1="340.24" y1="511.2" x2="340.24" y2="512.9" stroke="#555555" stroke-width="0.7"/>
<line x1="347.4" y1="511.2" x2="347.4" y2="512.9" stroke="#555555" stroke-width="0.7"/>
<line x1="354.55" y1="511.2" x2="354.55" y2="512.9" stroke="#555555" stroke-width="0.7"/>
<line x1="361.71" y1="511.2" x2="361.71" y2="512.9" stroke="#555555" stroke-width="0.7"/>
<line x1="368.87" y1="511.2" x2="368.87" y2="512.9" stroke="#555555" stroke-width="0.7"/>
<line x1="376.03" y1="511.2" x2="376.03" y2="512.9" stroke="#555555" stroke-width="0.7"/>
<line x1="383.18" y1="511.2" x2="383.18" y2="512.9" stroke="#555555" stroke-width="0.7"/>
<line x1="390.34" y1="511.2" x2="390.34" y2="512.9" stroke="#555555" stroke-width="0.7"/>
<line x1="397.5" y1="511.2" x2="397.5" y2="512.9" stroke="#555555" stroke-width="0.7"/>
<line x1="404.66" y1="511.2" x2="404.66" y2="512.9" stroke="#555555" stroke-width="0.7"/>
<line x1="411.82" y1="511.2" x2="411.82" y2="512.9" stroke="#555555" stroke-width="0.7"/>
<line x1="418.97" y1="511.2" x2="418.97" y2="512.9" stroke="#555555" stroke-width="0.7"/>
<line x1="426.13" y1="511.2" x2="426.13" y2="512.9" stroke="#555555" stroke-width="0.7"/>
<line x1="433.29" y1="511.2" x2="433.29" y2="512.9" stroke="#555555" stroke-width="0.7"/>
<line x1="440.45" y1="511.2" x2="440.45" y2="512.9" stroke="#555555" stroke-width="0.7"/>
<line x1="447.6" y1="511.2" x2="447.6" y2="512.9" stroke="#555555" stroke-width="0.7"/>
<line x1="454.76" y1="511.2" x2="454.76" y2="512.9" stroke="#555555" stroke-width="0.7"/>
<line x1="461.92" y1="511.2" x2="461.92" y2="512.9" stroke="#555555" stroke-width="0.7"/>
<line x1="469.08" y1="511.2" x2="469.08" y2="512.9" stroke="#555555" stroke-width="0.7"/>
<line x1="476.23" y1="511.2" x2="476.23" y2="512.9" stroke="#555555" stroke-width="0.7"/>
<line x1="483.39" y1="511.2" x2="483.39" y2="512.9" stroke="#555555" stroke-width="0.7"/>
<line x1="490.55" y1="511.2" x2="490.55" y2="512.9" stroke="#555555" stroke-width="0.7"/>
<line x1="497.71" y1="511.2" x2="497.71" y2="512.9" stroke="#555555" stroke-width="0.7"/>
<line x1="504.86" y1="511.2" x2="504.86" y2="512.9" stroke="#555555" stroke-width="0.7"/>
<line x1="512.02" y1="511.2" x2="512.02" y2="512.9" stroke="#555555" stroke-width="0.7"/>
<text x="284.86" y="515.1" font-size="5.7" text-anchor="end" transform="rotate(-89.9 284.86 515.1)" fill="#000000">1985</text>
<text x="292.02" y="515.1" font-size="5.7" text-anchor="end" transform="rotate(-89.9 292.02 515.1)" fill="#000000">1986</text>
<text x="299.17" y="515.1" font-size="5.7" text-anchor="end" transform="rotate(-89.9 299.17 515.1)" fill="#000000">1987</text>
<text x="306.33" y="515.1" font-size="5.7" text-anchor="end" transform="rotate(-89.9 306.33 515.1)" fill="#000000">1988</text>
<text x="313.49" y="515.1" font-size="5.7" text-anchor="end" transform="rotate(-89.9 313.49 515.1)" fill="#000000">1989</text>
<text x="320.65" y="515.1" font-size="5.7" text-anchor="end" transform="rotate(-89.9 320.65 515.1)" fill="#000000">1990</text>
<text x="327.81" y="515.1" font-size="5.7" text-anchor="end" transform="rotate(-89.9 327.81 515.1)" fill="#000000">1991</text>
<text x="334.96" y="515.1" font-size="5.7" text-anchor="end" transform="rotate(-89.9 334.96 515.1)" fill="#000000">1992</text>
<text x="342.12" y="515.1" font-size="5.7" text-anchor="end" transform="rotate(-89.9 342.12 515.1)" fill="#000000">1993</text>
<text x="349.28" y="515.1" font-size="5.7" text-anchor="end" transform="rotate(-89.9 349.28 515.1)" fill="#000000">1994</text>
<text x="356.44" y="515.1" font-size="5.7" text-anchor="end" transform="rotate(-89.9 356.44 515.1)" fill="#000000">1995</text>
<text x="363.59" y="515.1" font-size="5.7" text-anchor="end" transform="rotate(-89.9 363.59 515.1)" fill="#000000">1996</text>
<text x="370.75" y="515.1" font-size="5.7" text-anchor="end" transform="rotate(-89.9 370.75 515.1)" fill="#000000">1997</text>
<text x="377.91" y="515.1" font-size="5.7" text-anchor="end" transform="rotate(-89.9 377.91 515.1)" fill="#000000">1998</text>
<text x="385.07" y="515.1" font-size="5.7" text-anchor="end" transform="rotate(-89.9 385.07 515.1)" fill="#000000">1999</text>
<text x="392.22" y="515.1" font-size="5.7" text-anchor="end" transform="rotate(-89.9 392.22 515.1)" fill="#000000">2000</text>
<text x="399.38" y="515.1" font-size="5.7" text-anchor="end" transform="rotate(-89.9 399.38 515.1)" fill="#000000">2001</text>
<text x="406.54" y="515.1" font-size="5.7" text-anchor="end" transform="rotate(-89.9 406.54 515.1)" fill="#000000">2002</text>
<text x="413.7" y="515.1" font-size="5.7" text-anchor="end" transform="rotate(-89.9 413.7 515.1)" fill="#000000">2003</text>
<text x="420.85" y="515.1" font-size="5.7" text-anchor="end" transform="rotate(-89.9 420.85 515.1)" fill="#000000">2004</text>
<text x="428.01" y="515.1" font-size="5.7" text-anchor="end" transform="rotate(-89.9 428.01 515.1)" fill="#000000">2005</text>
<text x="435.17" y="515.1" font-size="5.7" text-anchor="end" transform="rotate(-89.9 435.17 515.1)" fill="#000000">2006</text>
<text x="442.33" y="515.1" font-size="5.7" text-anchor="end" transform="rotate(-89.9 442.33 515.1)" fill="#000000">2007</text>
<text x="449.48" y="515.1" font-size="5.7" text-anchor="end" transform="rotate(-89.9 449.48 515.1)" fill="#000000">2008</text>
<text x="456.64" y="515.1" font-size="5.7" text-anchor="end" transform="rotate(-89.9 456.64 515.1)" fill="#000000">2009</text>
<text x="463.8" y="515.1" font-size="5.7" text-anchor="end" transform="rotate(-89.9 463.8 515.1)" fill="#000000">2010</text>
<text x="470.96" y="515.1" font-size="5.7" text-anchor="end" transform="rotate(-89.9 470.96 515.1)" fill="#000000">2011</text>
<text x="478.11" y="515.1" font-size="5.7" text-anchor="end" transform="rotate(-89.9 478.11 515.1)" fill="#000000">2012</text>
<text x="485.27" y="515.1" font-size="5.7" text-anchor="end" transform="rotate(-89.9 485.27 515.1)" fill="#000000">2013</text>
<text x="492.43" y="515.1" font-size="5.7" text-anchor="end" transform="rotate(-89.9 492.43 515.1)" fill="#000000">2014</text>
<text x="499.59" y="515.1" font-size="5.7" text-anchor="end" transform="rotate(-89.9 499.59 515.1)" fill="#000000">2015</text>
<text x="506.74" y="515.1" font-size="5.7" text-anchor="end" transform="rotate(-89.9 506.74 515.1)" fill="#000000">2016</text>
<text x="513.9" y="515.1" font-size="5.7" text-anchor="end" transform="rotate(-89.9 513.9 515.1)" fill="#000000">2017</text>
<text x="510.7" y="369.4" font-size="14.6" text-anchor="end" font-weight="bold" letter-spacing="0.4" fill="#000">(f)</text>
<text x="541.4" y="432.6" font-size="8.4" text-anchor="middle" transform="rotate(-89.9 541.4 432.6)" fill="#000000">Area (km<tspan baseline-shift="super" font-size="5">2</tspan>)</text>
<rect x="154.5" y="538.7" width="5" height="5" fill="#000000"/>
<text x="162.4" y="544.5" font-size="11.2" fill="#111">Forest Cover</text>
<rect x="227.9" y="538.7" width="5" height="5" fill="#075C0A"/>
<text x="236.1" y="544.5" font-size="11.2" fill="#111">Core</text>
<rect x="266.9" y="538.7" width="5" height="5" fill="#444444"/>
<text x="274.9" y="544.5" font-size="11.2" fill="#111">Edge</text>
<rect x="307.2" y="538.7" width="5" height="5" fill="#A45A06"/>
<text x="315.6" y="544.5" font-size="11.2" fill="#111">Islet</text>
<rect x="344.6" y="538.7" width="5" height="5" fill="#0C70C6"/>
<text x="352.6" y="544.5" font-size="11.2" fill="#111">Perforation</text>
</svg>
</body></html>
